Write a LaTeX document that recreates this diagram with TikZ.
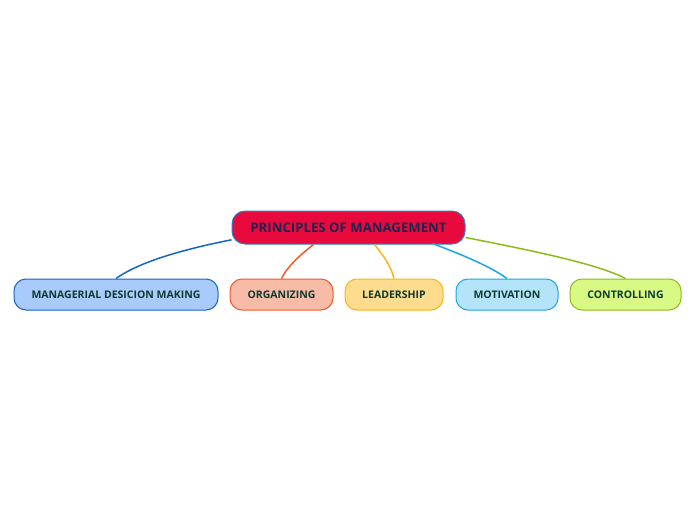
\documentclass[tikz,border=0pt]{standalone}
\usepackage{xcolor}
\usepackage{fontspec}
\setmainfont{Open Sans}
\definecolor{rootfill}{HTML}{E80A3C}
\definecolor{rootline}{HTML}{2F7FC4}
\definecolor{roottext}{HTML}{1C2450}
\definecolor{subtext}{HTML}{0E3A30}
\definecolor{mdmfill}{HTML}{A9CBFC}
\definecolor{mdmline}{HTML}{1664CA}
\definecolor{orgfill}{HTML}{F8BBA8}
\definecolor{orgline}{HTML}{F05A28}
\definecolor{leafill}{HTML}{FDDC8E}
\definecolor{lealine}{HTML}{FBB417}
\definecolor{motfill}{HTML}{B3E4FA}
\definecolor{motline}{HTML}{18A7E8}
\definecolor{confill}{HTML}{D8FA85}
\definecolor{conline}{HTML}{8CBC1A}

\begin{document}
\begin{tikzpicture}[x=1pt,y=-1pt,
  topic/.style={rounded corners=12pt,line width=1pt,minimum height=31pt,
    inner sep=0pt,text=subtext,font=\fontsize{10.5}{12}\selectfont\bfseries},
  link/.style={line width=1.5pt}]
  \useasboundingbox (0,0) rectangle (696,520);
  % central topic
  \node[draw=rootline,fill=rootfill,rounded corners=13pt,line width=1pt,
    minimum width=233pt,minimum height=33pt,inner sep=0pt,text=roottext,
    font=\fontsize{13.2}{15}\selectfont\bfseries] (root) at (348.5,227.5) {PRINCIPLES OF MANAGEMENT};
  % main topics
  \node[topic,draw=mdmline,fill=mdmfill,minimum width=204pt] (mdm) at (116,294.5) {MANAGERIAL DESICION MAKING};
  \node[topic,draw=orgline,fill=orgfill,minimum width=103pt] (org) at (281.5,294.5) {ORGANIZING};
  \node[topic,draw=lealine,fill=leafill,minimum width=98pt] (lea) at (394,294.5) {LEADERSHIP};
  \node[topic,draw=motline,fill=motfill,minimum width=102pt] (mot) at (507,294.5) {MOTIVATION};
  \node[topic,draw=conline,fill=confill,minimum width=111pt] (con) at (625.5,294.5) {CONTROLLING};
  % branches
  \draw[link,mdmline] (root.186) .. controls (170,252) and (135,265) .. (mdm.north);
  \draw[link,orgline] ([xshift=-35pt]root.south) .. controls (300,255) and (287,267) .. (org.north);
  \draw[link,lealine] ([xshift=26pt]root.south) .. controls (383,255) and (391,266) .. (lea.north);
  \draw[link,motline] ([xshift=84pt,yshift=1pt]root.south) .. controls (460,254) and (490,266) .. (mot.north);
  \draw[link,conline] ([yshift=-10pt]root.east) .. controls (540,252) and (600,265) .. (con.north);
\end{tikzpicture}
\end{document}
